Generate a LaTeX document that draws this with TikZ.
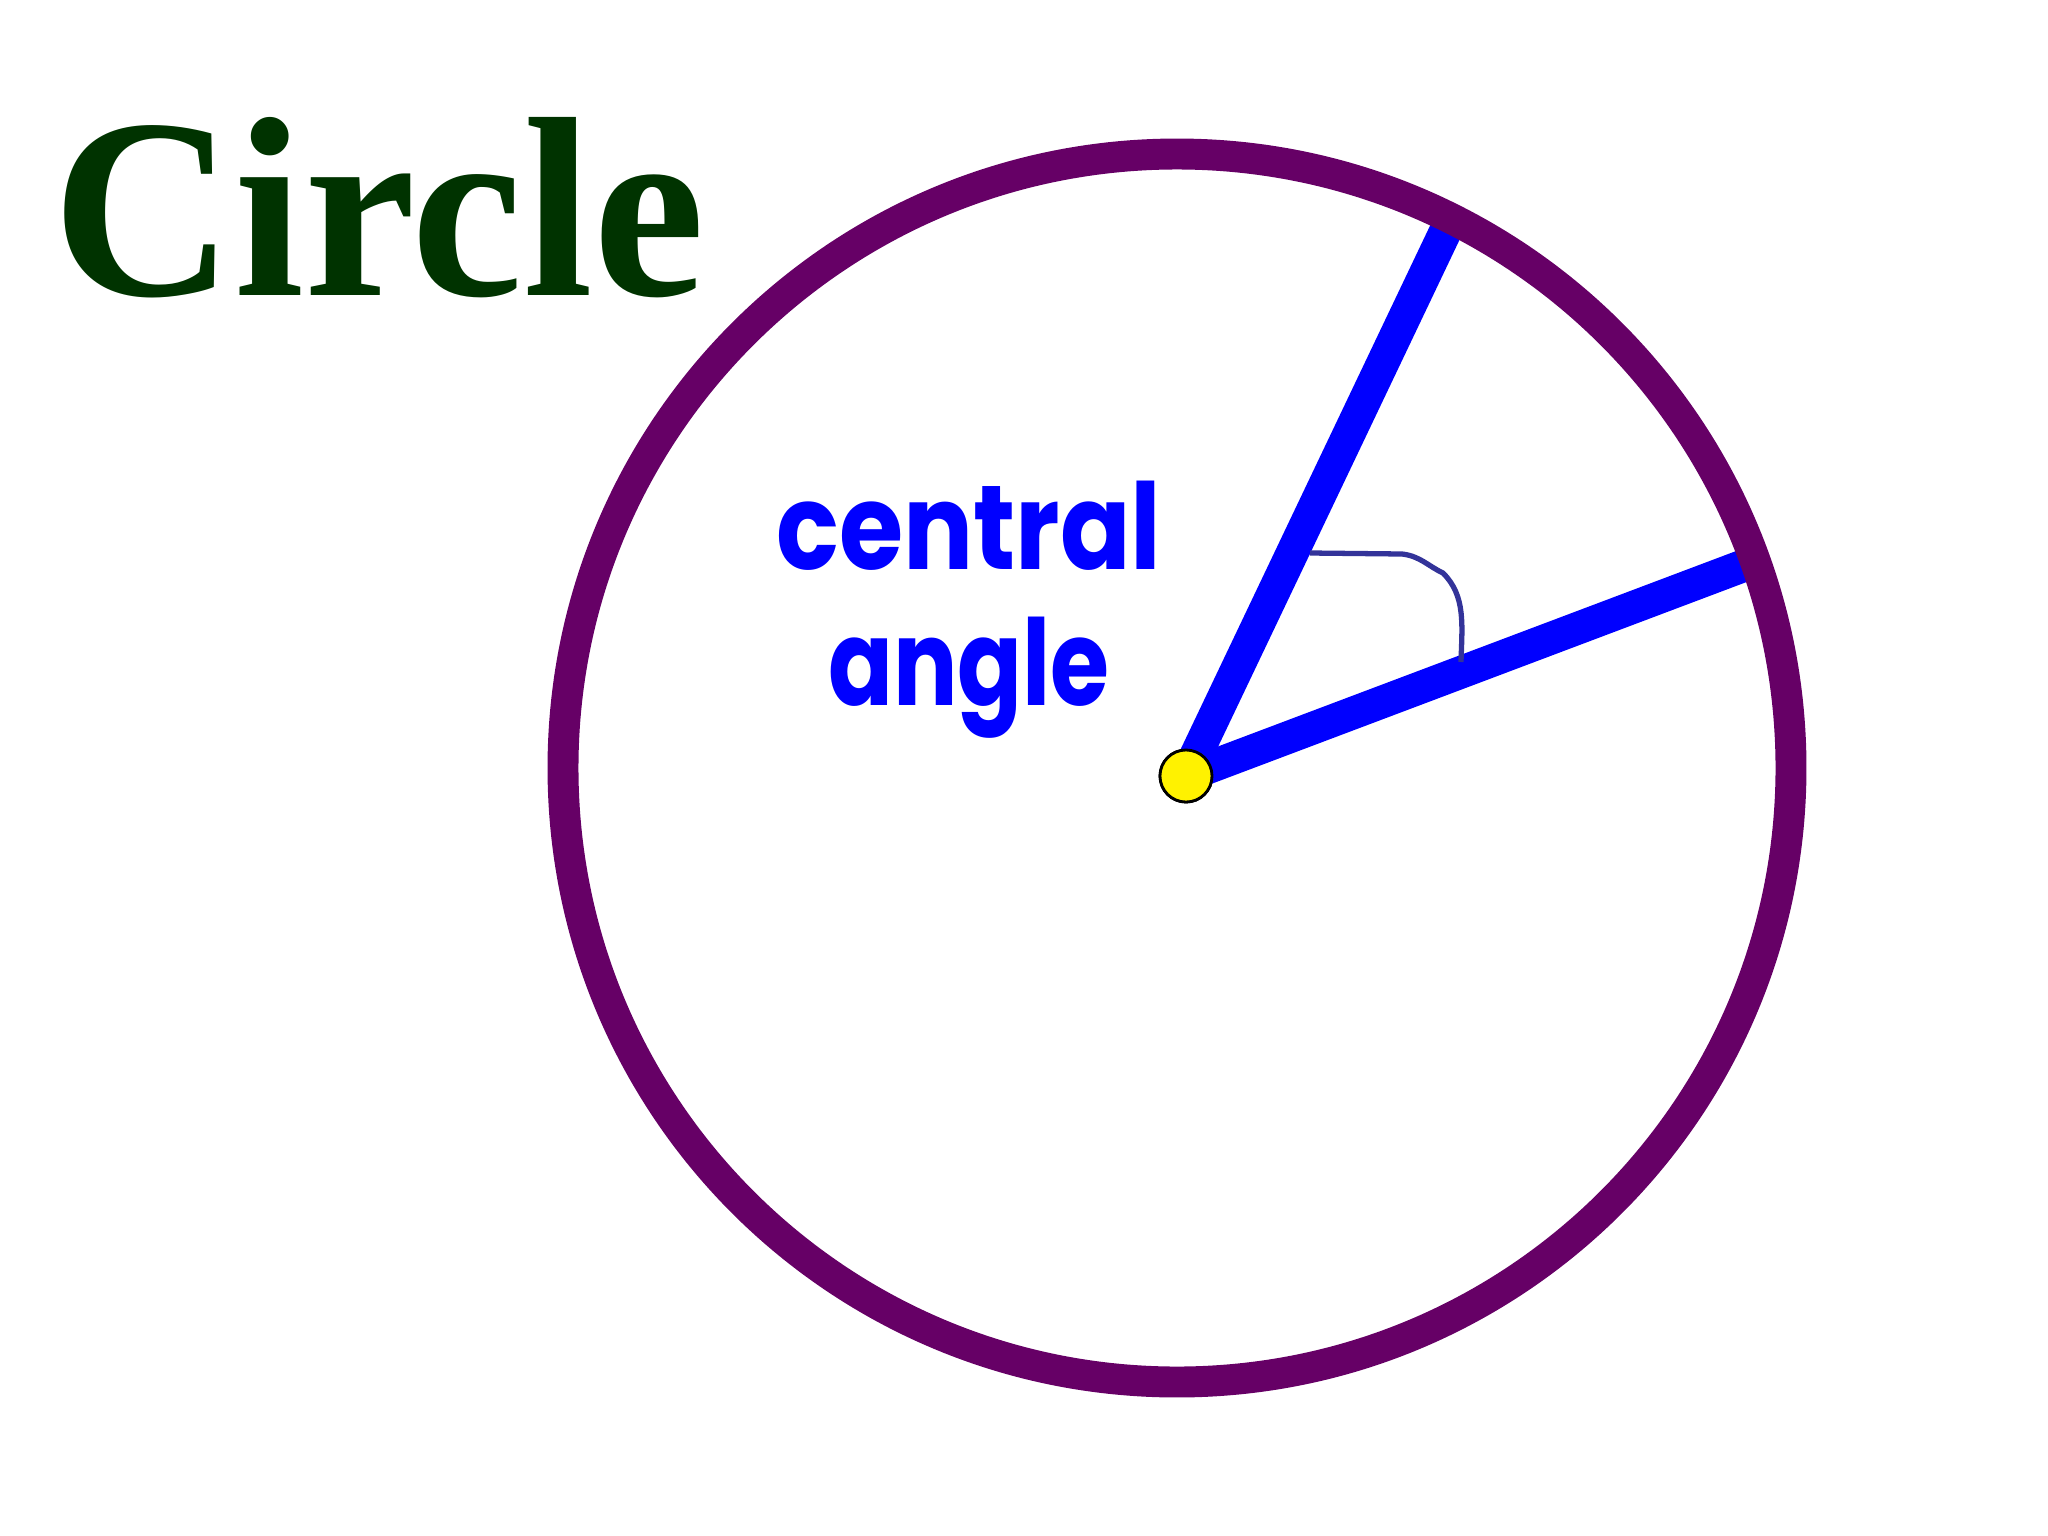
\documentclass[tikz,border=0pt]{standalone}
\usepackage{fontspec}
\setmainfont{Liberation Serif}
\newfontfamily\comicfont{Poppins}
\usetikzlibrary{calc,positioning}
\definecolor{rimpurple}{HTML}{660066}
\definecolor{titlegreen}{HTML}{003300}
\definecolor{markblue}{HTML}{333399}

\begin{document}
\begin{tikzpicture}
  [x=0.01cm, y=-0.01cm,
   rim/.style={draw=rimpurple, line width=8.8pt},
   radiusline/.style={draw=blue, line width=9.3pt},
   anglemark/.style={draw=markblue, line width=1.5pt, line join=round},
   vertexdot/.style={circle, fill=yellow, draw=black, line width=0.8pt, minimum size=0.52cm, inner sep=0pt},
   titletext/.style={font=\fontsize{73}{80}\selectfont\bfseries, text=titlegreen, inner sep=0pt},
   angletext/.style={font=\comicfont\bfseries\fontsize{34}{40}\selectfont, text=blue, inner sep=0pt}]
  \useasboundingbox (0,0) rectangle (2048,1536);

  % points %
  \coordinate (o) at (1177,768);
  \coordinate (a) at (1448,226);
  \coordinate (b) at (1748,564);
  \node[vertexdot] (v) at (1186,776) {};

  % radii and circle %
  \draw[radiusline] (v.center) -- (a);
  \draw[radiusline] (v.center) -- (b);
  \draw[rim] (o) circle[radius=614];
  \node[vertexdot] at (v) {};

  % angle mark %
  \draw[anglemark] (1310,553) -- (1402,554) .. controls (1420,556) and (1428,566) .. (1443,573)
    .. controls (1466,596) and (1462,625) .. (1461,662);

  % labels %
  \node[titletext, anchor=base west] (title) at (52,295) {\scalebox{0.98}[1]{Circle}};
  \node[angletext, anchor=base] (central) at (969,569) {\scalebox{0.87}[1]{central}};
  \node[angletext, anchor=base] (angle) at ([yshift=-1.36cm]central.base) {\scalebox{0.8}[1]{angle}};
\end{tikzpicture}
\end{document}
